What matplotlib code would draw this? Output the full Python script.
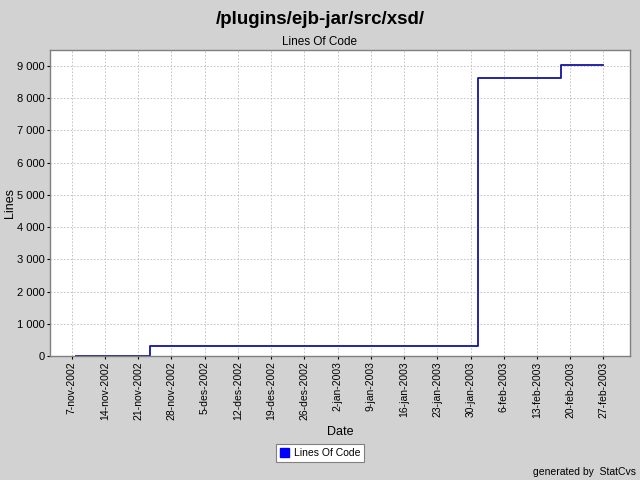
import datetime as dt
import matplotlib
matplotlib.use("Agg")
import matplotlib.pyplot as plt
import matplotlib.dates as mdates
from matplotlib.patches import Patch
from matplotlib.ticker import FuncFormatter

plt.rcParams['font.family'] = ['Liberation Sans', 'DejaVu Sans']

# data: step series of lines of code
DATES = [
    dt.datetime(2002, 11, 7, 20),
    dt.datetime(2002, 11, 23, 10),
    dt.datetime(2003, 1, 31, 12),
    dt.datetime(2003, 2, 18, 0),
    dt.datetime(2003, 2, 27, 0),
]
LINES = [0, 320, 8610, 9020, 9020]

TICK_DATES = [
    dt.datetime(2002, 11, 7), dt.datetime(2002, 11, 14), dt.datetime(2002, 11, 21),
    dt.datetime(2002, 11, 28), dt.datetime(2002, 12, 5), dt.datetime(2002, 12, 12),
    dt.datetime(2002, 12, 19), dt.datetime(2002, 12, 26), dt.datetime(2003, 1, 2),
    dt.datetime(2003, 1, 9), dt.datetime(2003, 1, 16), dt.datetime(2003, 1, 23),
    dt.datetime(2003, 1, 30), dt.datetime(2003, 2, 6), dt.datetime(2003, 2, 13),
    dt.datetime(2003, 2, 20), dt.datetime(2003, 2, 27),
]
TICK_LABELS = [
    '7-nov-2002', '14-nov-2002', '21-nov-2002', '28-nov-2002', '5-des-2002',
    '12-des-2002', '19-des-2002', '26-des-2002', '2-jan-2003', '9-jan-2003',
    '16-jan-2003', '23-jan-2003', '30-jan-2003', '6-feb-2003', '13-feb-2003',
    '20-feb-2003', '27-feb-2003',
]
Y_TICKS = [0, 1000, 2000, 3000, 4000, 5000, 6000, 7000, 8000, 9000]

BG = '#d2d2d2'
LINE_COLOR = '#1414a0'

fig = plt.figure(figsize=(6.4, 4.8), dpi=100, facecolor=BG)
ax = fig.add_axes([50 / 640, 124 / 480, 580 / 640, 306 / 480])
ax.set_facecolor('white')

ax.step(DATES, LINES, where='post', color=LINE_COLOR, linewidth=1.3)

ax.set_xlim(dt.datetime(2002, 11, 2, 11), dt.datetime(2003, 3, 4, 14))
ax.set_ylim(0, 9490)

ax.set_xticks(mdates.date2num(TICK_DATES))
ax.set_xticklabels(TICK_LABELS, rotation=90, fontsize=7.5)
ax.set_yticks(Y_TICKS)
ax.yaxis.set_major_formatter(FuncFormatter(lambda v, p: f"{int(v):,}".replace(',', ' ')))
ax.tick_params(axis='y', labelsize=8, length=2, pad=2)
ax.tick_params(axis='x', length=2, pad=2)

ax.grid(True, color='#bcbcbc', linestyle=(0, (2, 2)), linewidth=0.6)
for s in ax.spines.values():
    s.set_color('#808080')
    s.set_linewidth(1.0)

ax.set_xlabel('Date', fontsize=9, labelpad=4)
ax.set_ylabel('Lines', fontsize=9)
ax.yaxis.set_label_coords(-34 / 580, 0.5)

fig.text(0.5, 1 - 19 / 480, '/plugins/ejb-jar/src/xsd/', ha='center', va='center',
         fontsize=13.5, fontweight='bold')
fig.text(0.5, 1 - 42 / 480, 'Lines Of Code', ha='center', va='center', fontsize=8.5)

leg = fig.legend(handles=[Patch(facecolor='#0000ff', edgecolor='#0000ff', label='Lines Of Code')],
                 loc='center', bbox_to_anchor=(320 / 640, 1 - 453 / 480), fontsize=7.5,
                 fancybox=False, framealpha=1, edgecolor='#808080',
                 handlelength=0.9, handleheight=0.9, handletextpad=0.4,
                 borderpad=0.35)
leg.get_frame().set_linewidth(0.8)

fig.text(636 / 640, 1 - 472 / 480, 'generated by  StatCvs', ha='right', va='center',
         fontsize=7.5)

fig.savefig('out.png', dpi=100, facecolor=BG)
